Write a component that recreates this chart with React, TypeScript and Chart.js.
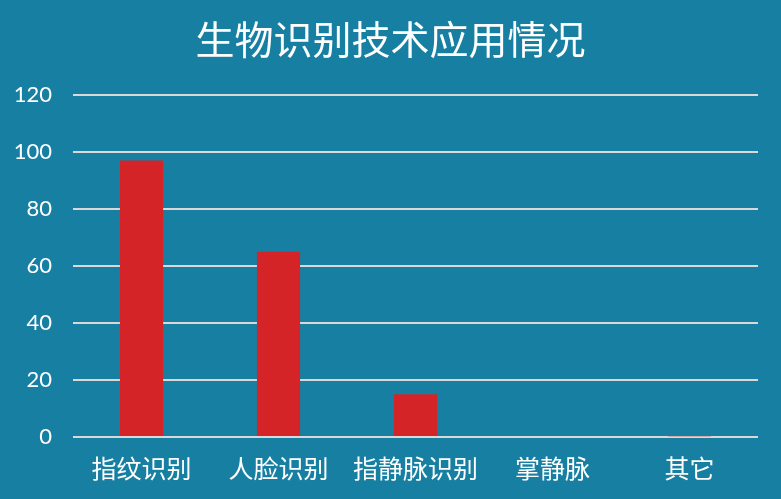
import React, { useEffect, useRef } from 'react'
import { Chart, registerables, type ChartConfiguration } from 'chart.js'

Chart.register(...registerables)

const categories = ['指纹识别', '人脸识别', '指静脉识别', '掌静脉', '其它']
const usage = [97, 65, 15, 0, 0.3]
const yTicks = [0, 20, 40, 60, 80, 100, 120]
const titleText = '生物识别技术应用情况'

const BG = '#177fa2'
const FONT = 'Lato, "Noto Sans CJK SC", sans-serif'

// background + title centred on the whole canvas (not just the plot area)
const bgPlugin = {
  id: 'bg',
  beforeDraw(chart: Chart) {
    const { ctx, width, height } = chart
    ctx.save()
    ctx.fillStyle = BG
    ctx.fillRect(0, 0, width, height)
    ctx.restore()
  },
  afterDraw(chart: Chart) {
    const { ctx, width } = chart
    ctx.save()
    ctx.fillStyle = '#ffffff'
    ctx.font = `39px ${FONT}`
    ctx.textAlign = 'center'
    ctx.textBaseline = 'middle'
    ctx.fillText(titleText, width / 2, 41)
    ctx.restore()
  },
}

export default function App() {
  const canvasRef = useRef<HTMLCanvasElement>(null)
  const chartRef = useRef<Chart | null>(null)

  useEffect(() => {
    document.body.style.margin = '0'
    if (!canvasRef.current) return
    chartRef.current?.destroy()

    const cfg: ChartConfiguration<'bar'> = {
      type: 'bar',
      data: {
        labels: categories,
        datasets: [
          {
            label: '应用情况',
            data: usage,
            backgroundColor: '#d52427',
            categoryPercentage: 1,
            barPercentage: 0.315,
          },
        ],
      },
      plugins: [bgPlugin],
      options: {
        responsive: true,
        maintainAspectRatio: false,
        animation: false,
        layout: { padding: { left: 0, right: 23, top: 95, bottom: 4 } },
        plugins: {
          legend: { display: false },
          tooltip: { enabled: false },
          title: { display: false },
        },
        scales: {
          x: {
            grid: { display: false },
            border: { display: false },
            ticks: {
              color: '#ffffff',
              font: { family: FONT, size: 25 },
              padding: 10,
              maxRotation: 0,
              autoSkip: false,
            },
          },
          y: {
            min: 0,
            max: 120,
            afterBuildTicks: axis => {
              axis.ticks = yTicks.map(v => ({ value: v }))
            },
            afterFit: axis => { axis.width = 73 },
            grid: { color: '#d9d9d9', lineWidth: 2, drawTicks: false },
            border: { display: false },
            ticks: {
              color: '#ffffff',
              font: { family: FONT, size: 22 },
              padding: 21,
            },
          },
        },
      },
    }
    chartRef.current = new Chart(canvasRef.current, cfg)
    return () => { chartRef.current?.destroy() }
  }, [])

  return (
    <div style={{ position: 'fixed', inset: 0, width: 781, height: 499, background: BG }}>
      <canvas ref={canvasRef} style={{ width: '100%', height: '100%' }} />
    </div>
  )
}
